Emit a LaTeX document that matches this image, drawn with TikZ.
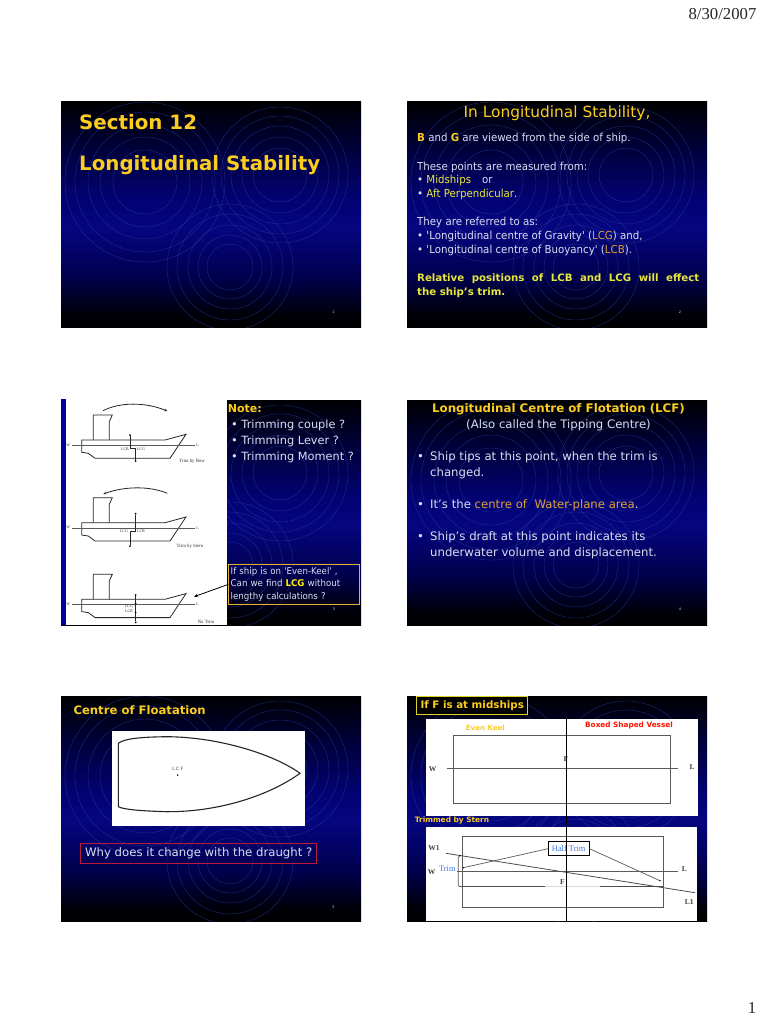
\documentclass[tikz,border=0pt]{standalone}
\usepackage{fontspec}
\setmainfont{DejaVu Sans}
\newfontfamily\paperfont{Liberation Serif}
\newfontfamily\narrowfont[FakeStretch=0.93]{DejaVu Sans}
\usetikzlibrary{arrows.meta}

\definecolor{ringblue}{RGB}{38,62,160}
\definecolor{titlegold}{RGB}{250,205,30}
\definecolor{paleyellow}{RGB}{232,232,60}
\definecolor{softorange}{RGB}{222,160,60}
\definecolor{bodywhite}{RGB}{218,222,240}
\definecolor{framegold}{RGB}{226,176,50}
\definecolor{framered}{RGB}{190,24,60}
\definecolor{linegrey}{RGB}{90,90,90}
\definecolor{trimblue}{RGB}{60,120,230}

\pgfdeclareverticalshading{slidefade}{100bp}{
	rgb(0bp)=(0,0,0);
	rgb(25bp)=(0,0,0);
	rgb(28bp)=(0,0,.04);
	rgb(36bp)=(0,0,.3);
	rgb(47bp)=(.02,.02,.5);
	rgb(53bp)=(.01,.01,.46);
	rgb(65bp)=(0,0,.22);
	rgb(75bp)=(0,0,.01);
	rgb(100bp)=(0,0,0)}

\newcommand{\fsize}[1]{\fontsize{#1}{#1}\selectfont}

\newcommand{\slide}[1]{

\begin{scope}[shift={#1}]
	\begin{scope}
		\clip (0,0) rectangle (300,225);
		\shade[shading=slidefade] (0,0) rectangle (300,225);
		\foreach \r in {32,45,57,70,80}
			\draw[ringline] (84,80) circle (\r);
		\foreach \r in {27,38,49,59,68}
			\draw[ringline] (219,73) circle (\r);
		\foreach \r in {23,32,42,53,63}
			\draw[ringline] (169,165) circle (\r);
	\end{scope}
\end{scope}

}

\newcommand{\ship}[1]{

\begin{scope}[shift={#1}]
	\draw[shipline] (0,0) -- (83.3,0) -- (104.3,-5.7) -- (88.3,18.3) -- (13.3,18.3) -- (6.6,13.3) -- (0,12.3) -- cycle;
	\draw[shipline] (11.6,0) -- (11.6,-25) -- (30.6,-25) -- (27.6,-18.3) -- (27.6,0);
	\draw[linegrey,line width=.4pt] (-10,5) -- (113,5);
	\node[tiny serif] (wleft) at (-13.4,5) {W};
	\node[tiny serif] (lright) at (116,5) {L};
\end{scope}

}

\tikzset{
	x=1pt,y=-1pt,
	ringline/.style={ringblue,line width=.35pt,opacity=.75},
	shipline/.style={black!85,line width=.8pt},
	tiny serif/.style={inner sep=0pt,font=\paperfont\fsize{4},text=black!80},
	small serif/.style={inner sep=0pt,font=\paperfont\fsize{4.8},text=black!80},
	label serif/.style={inner sep=0pt,font=\paperfont\bfseries\fsize{7.5},text=black!75},
	pagenum/.style={inner sep=0pt,font=\fsize{3.5},text=bodywhite},
	body/.style={anchor=west,inner sep=0pt,font=\fsize{11.7},text=bodywhite},
	note body/.style={anchor=west,inner sep=0pt,font=\fsize{11.35},text=bodywhite},
	small body/.style={anchor=west,inner sep=0pt,font=\narrowfont\fsize{11},text=bodywhite},
	marker/.style={circle,fill=black,inner sep=0pt,minimum size=2pt},
	grey line/.style={linegrey,line width=.7pt},
}

\begin{document}
\begin{tikzpicture}
	\useasboundingbox (0,0) rectangle (768,1024);
	\fill[white] (0,0) rectangle (768,1024);

	\node[inner sep=0pt,font=\paperfont\fsize{16.7},text=black!85] (datenote) at (722.5,14) {8/30/2007};
	\node[inner sep=0pt,font=\paperfont\fsize{16.7},text=black!85] (sheetnum) at (752,1008) {1};

	\slide{(61,102)}
	\slide{(407,102)}
	\slide{(61,400)}
	\slide{(407,400)}
	\slide{(61,696)}
	\slide{(407,696)}

	% first slide
	\node[anchor=west,inner sep=0pt,font=\bfseries\fsize{19.8},text=titlegold] (sectitle) at (79,122.5) {Section 12};
	\node[anchor=west,inner sep=0pt,font=\bfseries\fsize{19.8},text=titlegold] (stabtitle) at (79,165) {Longitudinal Stability};
	\node[pagenum] (numa) at (333.5,312) {1};

	% second slide
	\node[inner sep=0pt,font=\fsize{15.4},text=titlegold] (intitle) at (557,113) {In Longitudinal Stability,};
	\node[small body] (viewed) at (417,138.3) {{\bfseries\color{titlegold}B} and {\bfseries\color{titlegold}G} are viewed from the side of ship.};
	\node[small body] (measured) at (417,167.3) {These points are measured from:};
	\node[small body] (midships) at (417,180.7) {\textbullet\ {\color{paleyellow}Midships}\quad or};
	\node[small body] (aftperp) at (417,194.3) {\textbullet\ {\color{paleyellow}Aft Perpendicular}.};
	\node[small body] (referred) at (417,222.7) {They are referred to as:};
	\node[small body] (lcgline) at (417,236.7) {\textbullet\ 'Longitudinal centre of Gravity' ({\color{softorange}LCG}) and,};
	\node[small body] (lcbline) at (417,250.7) {\textbullet\ 'Longitudinal centre of Buoyancy' ({\color{softorange}LCB}).};
	\node[anchor=west,inner sep=0pt,font=\bfseries\fsize{10.2},text=paleyellow] (relative) at (417,278.7) {\makebox[282pt][s]{Relative positions of LCB and LCG will effect}};
	\node[anchor=west,inner sep=0pt,font=\bfseries\fsize{10.2},text=paleyellow] (shiptrim) at (417,292.7) {the ship's trim.};
	\node[pagenum] (numb) at (680,312) {2};

	% third slide
	\fill[white] (66,399) rectangle (227,625);
	\fill[blue!60!black] (61,399) rectangle (66,625);
	\ship{(81.7,440)}
	\ship{(81.7,522.7)}
	\ship{(81.7,599.3)}

	\coordinate (bowstart) at (103,410.7);
	\coordinate (bowend) at (167.3,411);
	\draw[shipline,-{Stealth[length=3pt,width=2.5pt]}] (bowstart) .. controls (120,402) and (145,402) .. (bowend);
	\coordinate (sternstart) at (167.3,493.3);
	\coordinate (sternend) at (103.3,494);
	\draw[shipline,-{Stealth[length=3pt,width=2.5pt]}] (sternstart) .. controls (150,486) and (125,486) .. (sternend);

	\node[marker] (ga) at (130,435) {};
	\node[marker] (gb) at (135.7,461) {};
	\draw[shipline] (ga) -- (130,448.3) -- (135.7,448.3) -- (gb);
	\node[tiny serif] (lcba) at (125,449) {LCB};
	\node[tiny serif] (lcga) at (141,449) {LCG};
	\node[small serif] (bowlabel) at (192,461.7) {Trim by Bow};

	\node[marker] (gc) at (135.7,513.7) {};
	\node[marker] (gd) at (130,546) {};
	\draw[shipline] (gc) -- (135.7,531.7) -- (130,531.7) -- (gd);
	\node[tiny serif] (lcgb) at (124,531.5) {LCG};
	\node[tiny serif] (lcbb) at (141,531.5) {LCB};
	\node[small serif] (sternlabel) at (190,546) {Trim by Stern};

	\node[marker] (ge) at (135.7,595) {};
	\node[marker] (gf) at (135.7,622.3) {};
	\draw[shipline] (ge) -- (gf);
	\node[marker] at (135.7,603.5) {};
	\node[marker] at (135.7,612.7) {};
	\node[tiny serif] (lcgc) at (129,606) {LCG};
	\node[tiny serif] (lcbc) at (129,611) {LCB};
	\node[small serif] (notrim) at (206,621.7) {No Trim};

	\node[anchor=west,inner sep=0pt,font=\bfseries\fsize{11},text=titlegold] (notehead) at (227.7,409) {Note:};
	\node[note body] (couple) at (231,425) {\textbullet\ Trimming couple ?};
	\node[note body] (lever) at (231,441) {\textbullet\ Trimming Lever ?};
	\node[note body] (moment) at (231,457) {\textbullet\ Trimming Moment ?};

	\node[draw=framegold,line width=.8pt,anchor=north west,minimum width=131pt,minimum height=40pt,inner sep=2pt,align=left,text width=127pt,font=\narrowfont\fsize{9.3},text=bodywhite] (evenbox) at (228.3,564)
		{If ship is on 'Even-Keel' ,\\[2.9pt]Can we find {\bfseries\color{yellow}LCG} without\\[2.9pt]lengthy calculations ?};
	\coordinate (evenarrow) at (194,596.7);
	\draw[black,line width=.8pt,-{Stealth[length=4pt,width=3.5pt]}] (evenbox.west) -- (evenarrow);
	\node[pagenum] (numc) at (334,609) {3};

	% fourth slide
	\node[inner sep=0pt,font=\bfseries\fsize{11.8},text=titlegold] (lcftitle) at (558.5,409.3) {Longitudinal Centre of Flotation (LCF)};
	\node[inner sep=0pt,font=\fsize{11.7},text=bodywhite] (lcfsub) at (558.5,425.3) {(Also called the Tipping Centre)};
	\node[body] (tipbull) at (417,457.3) {\textbullet};
	\node[body] (tipa) at (430,457.3) {Ship tips at this point, when the trim is};
	\node[body] (tipb) at (430,473.7) {changed.};
	\node[body] (arabull) at (417,505.7) {\textbullet};
	\node[body] (area) at (430,505.7) {It's the {\color{softorange}centre of\ \ Water-plane area}.};
	\node[body] (drabull) at (417,537.7) {\textbullet};
	\node[body] (drafta) at (430,537.7) {Ship's draft at this point indicates its};
	\node[body] (draftb) at (430,553.7) {underwater volume and displacement.};
	\node[pagenum] (numd) at (680,609) {4};

	% fifth slide
	\node[anchor=west,inner sep=0pt,font=\bfseries\fsize{11.65},text=titlegold] (floattitle) at (73.3,710) {Centre of Floatation};
	\fill[white] (111.7,730.7) rectangle (305,826);
	\draw[black!85,line width=1.1pt] (118.3,743.3) .. controls (125,738) and (145,737) .. (166.7,736.7)
		.. controls (220,737) and (275,755) .. (300,773.3)
		.. controls (270,795) and (220,812) .. (166.7,811.7)
		.. controls (145,811) and (125,810) .. (118.3,806.7) -- cycle;
	\node[inner sep=0pt,font=\fsize{4.4},text=black!80] (lcflabel) at (177.7,769) {L C F};
	\node[marker,minimum size=1.6pt] (lcfdot) at (177.7,775) {};
	\node[draw=framered,line width=.8pt,minimum width=236pt,minimum height=20pt,inner sep=0pt,font=\fsize{11.7},text=bodywhite] (whybox) at (198.7,853.3) {Why does it change with the draught ?};
	\node[pagenum] (nume) at (333.5,907) {5};

	% sixth slide
	\fill[white] (426,719) rectangle (697.7,816);
	\fill[white] (426,826.7) rectangle (696.7,920.7);
	\node[draw=yellow!85!black,line width=.8pt,fill=black,minimum width=111pt,minimum height=17.6pt,inner sep=0pt,font=\bfseries\fsize{10.3},text=titlegold] (midbox) at (472.2,705.5) {If F is at midships};
	\node[inner sep=0pt,font=\bfseries\fsize{7},text=titlegold] (evenkeel) at (485.3,727.7) {Even Keel};
	\node[inner sep=0pt,font=\bfseries\fsize{7.3},text=red!85!orange] (boxedlabel) at (629,725) {Boxed Shaped Vessel};
	\draw[grey line] (453.3,735.3) rectangle (670.3,803.3);
	\node[label serif] (wa) at (432.7,769.3) {W};
	\node[label serif] (la) at (692,767.3) {L};
	\draw[grey line] (447.3,768.3) -- (677.7,768.3);
	\node[label serif] (fa) at (566,759.3) {F};
	\node[inner sep=0pt,font=\bfseries\fsize{7.4},text=titlegold] (sternhead) at (452,820) {Trimmed by Stern};
	\draw[grey line] (462.3,836.7) rectangle (663.3,907.3);
	\node[label serif] (wb) at (431.7,871.7) {W};
	\node[label serif] (lb) at (684.3,869.3) {L};
	\node[label serif] (wc) at (434,847.7) {W1};
	\node[label serif] (lc) at (689.3,902.3) {L1};
	\node[label serif] (fb) at (562.3,882) {F};
	\draw[grey line] (456.7,871.7) -- (678.3,871.7);
	\draw[black!70,line width=.8pt] (446,853.3) -- (695,892.7);
	\draw[black!70,line width=.9pt] (460,886.7) -- (663.3,886.7);
	\draw[black!15,line width=1pt] (545,886.7) -- (600,886.7);
	\draw[grey line] (460,855.7) .. controls (457.5,856) and (458.3,858) .. (458.3,860) -- (458.3,882) .. controls (458.3,885.5) and (458,886.7) .. (460,886.7);
	\node[inner sep=0pt,font=\paperfont\fsize{8.4},text=trimblue] (trimlabel) at (447.3,869) {Trim};
	\node[draw=black,line width=.8pt,fill=white,minimum width=40.7pt,minimum height=14pt,inner sep=0pt,font=\paperfont\fsize{8.4},text=trimblue] (halfbox) at (568.7,848.7) {Half Trim};
	\coordinate (halfleft) at (463.3,867.7);
	\coordinate (halfright) at (660,880.7);
	\draw[grey line] (halfbox.west) -- (halfleft);
	\draw[grey line] (halfbox.east) -- (halfright);
	\node[marker,minimum size=1.5pt] (dotleft) at (halfleft) {};
	\node[marker,minimum size=1.5pt] (dotright) at (halfright) {};
	\node[marker,minimum size=1.5pt] (dottop) at (460,855.7) {};
	\draw[black,line width=.9pt] (566.7,719) -- (566.7,920.7);

\end{tikzpicture}
\end{document}
